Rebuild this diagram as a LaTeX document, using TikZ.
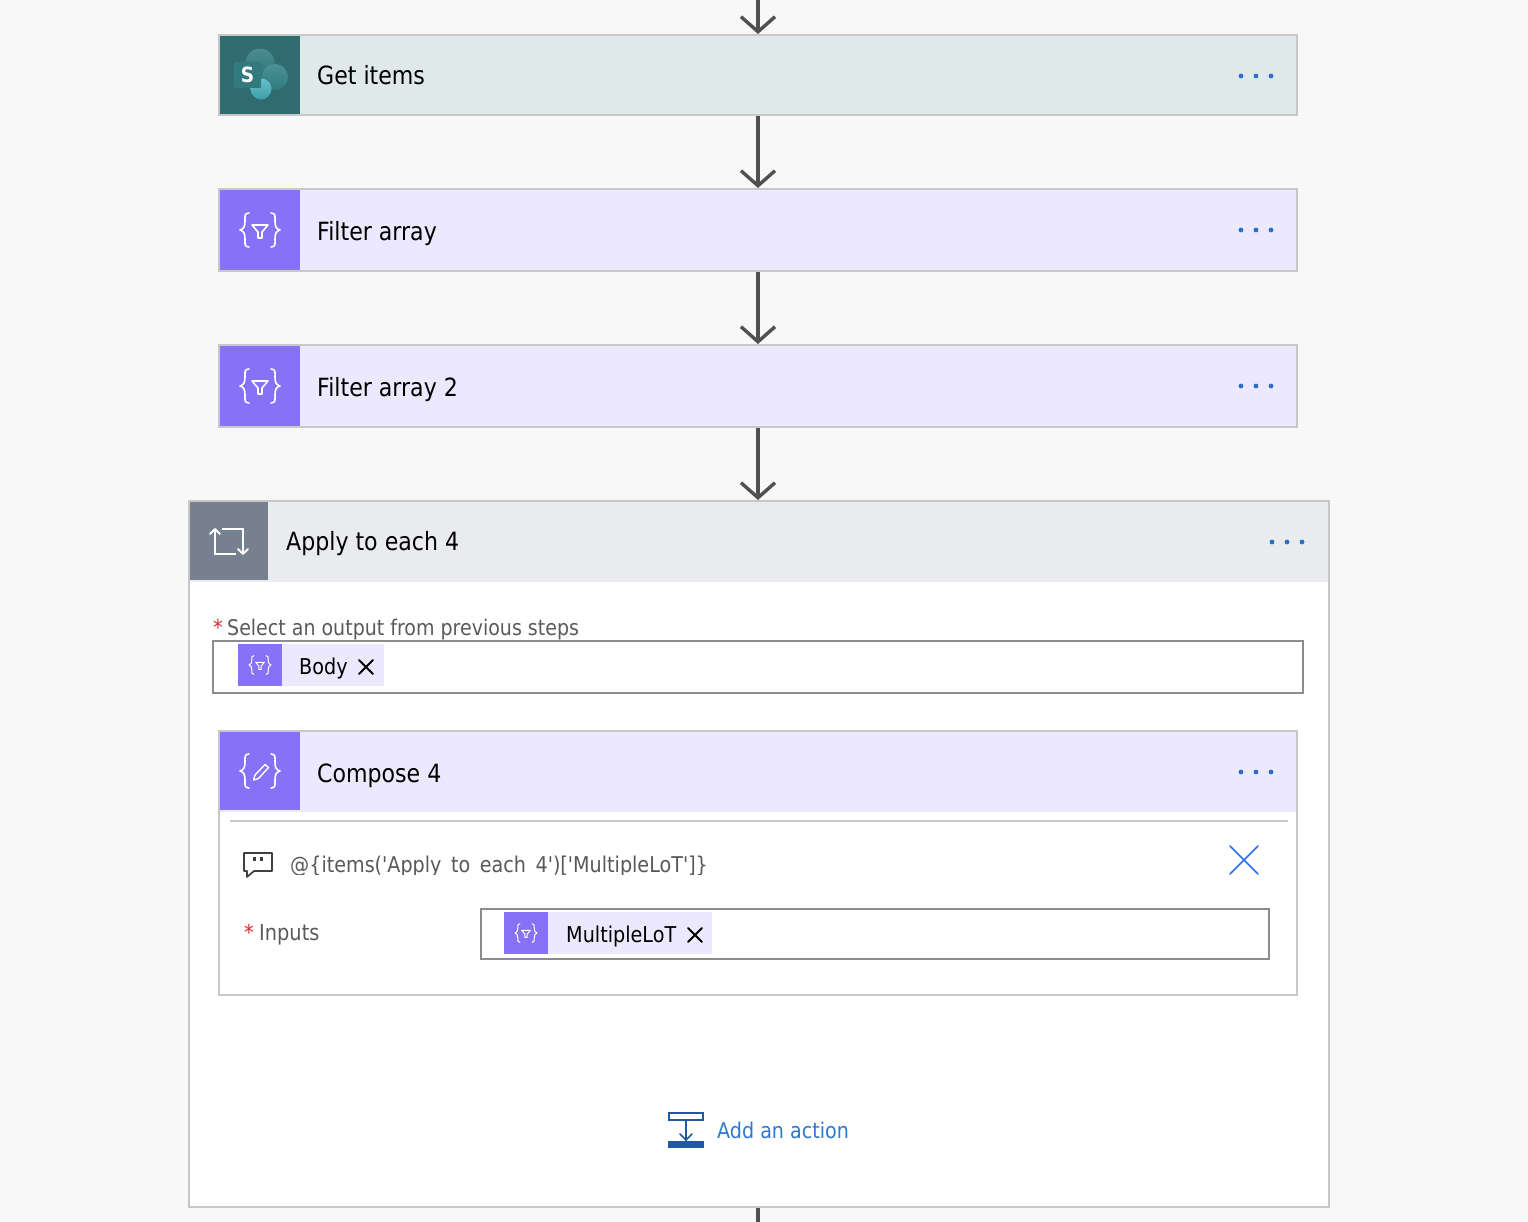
\documentclass[tikz,border=0pt]{standalone}
\usepackage{fontspec}
\setmainfont{DejaVu Sans}[FakeStretch=0.88]
\newfontfamily\plainquotes{DejaVu Sans}[FakeStretch=0.88]
\usetikzlibrary{arrows.meta}
\definecolor{pagebg}{HTML}{F8F8F8}
\definecolor{bordergray}{HTML}{C8C8C8}
\definecolor{teallight}{HTML}{E0E9EA}
\definecolor{tealdark}{HTML}{2F6B6F}
\definecolor{spa}{HTML}{4B8C90}
\definecolor{spb}{HTML}{2F7478}
\definecolor{spc}{HTML}{4B9196}
\definecolor{spd}{HTML}{327A7E}
\definecolor{spe}{HTML}{66C0CA}
\definecolor{spf}{HTML}{3F9DA8}
\definecolor{spg}{HTML}{337A7E}
\definecolor{purpledark}{HTML}{8671F7}
\definecolor{purplelight}{HTML}{ECE9FE}
\definecolor{slateicon}{HTML}{76808F}
\definecolor{slatelight}{HTML}{EAEBEF}
\definecolor{fieldgray}{HTML}{8C8C8C}
\definecolor{wire}{HTML}{505050}
\definecolor{dotblue}{HTML}{2B6FC8}
\definecolor{linkblue}{HTML}{2F78CF}
\definecolor{crossblue}{HTML}{2A6FE8}
\definecolor{navy}{HTML}{20599F}
\definecolor{labelgray}{HTML}{5A5A5A}
\definecolor{starred}{HTML}{D8282F}
\newcommand{\fsz}[1]{\fontsize{#1}{#1}\selectfont}
\tikzset{
  x=1pt,y=-1pt,
  cardbox/.style={draw=bordergray,line width=2pt,inner sep=0pt,outer sep=1pt,anchor=north west},
  iconbox/.style={inner sep=0pt,outer sep=0pt,anchor=north west},
  title/.style={inner sep=0pt,anchor=base west,font=\fsz{25.1},text=black},
  fieldlabel/.style={inner sep=0pt,anchor=base west,font=\fsz{21.6},text=labelgray},
  chiptext/.style={inner sep=0pt,anchor=base west,font=\fsz{21.8},text=black},
  starmark/.style={inner sep=0pt,anchor=base west,font=\fsz{22},text=starred},
  wirearrow/.style={draw=wire,line width=3.4pt,-{Straight Barb[length=15pt,width=34pt,line width=3.4pt]}},
  fieldbox/.style={draw=fieldgray,line width=2pt,fill=white,inner sep=0pt,outer sep=0pt,anchor=north west},
}
% dots menu
\newcommand{\dotsmenu}[2]{\foreach \k in {0,15,30}{\fill[dotblue] (#1+\k,#2) circle (2.4);}}
% braces: centre x, y, scale, line width
\newcommand{\bracepair}[4]{%
  \begin{scope}[shift={(#1,#2)},scale=#3]
    \draw[white,line width=#4pt,line cap=round,line join=round]
      (-11,-17) .. controls (-16,-17) and (-15,-13) .. (-15,-9) .. controls (-15,-4) and (-16,-1) .. (-20,0)
      .. controls (-16,1) and (-15,4) .. (-15,9) .. controls (-15,13) and (-16,17) .. (-11,17);
    \draw[white,line width=#4pt,line cap=round,line join=round]
      (11,-17) .. controls (16,-17) and (15,-13) .. (15,-9) .. controls (15,-4) and (16,-1) .. (20,0)
      .. controls (16,1) and (15,4) .. (15,9) .. controls (15,13) and (16,17) .. (11,17);
  \end{scope}}
\newcommand{\funnelicon}[4]{%
  \bracepair{#1}{#2}{#3}{#4}
  \begin{scope}[shift={(#1,#2)},scale=#3]
    \draw[white,line width=#4pt,line join=round]
      (-8,-5) -- (8,-5) -- (2,2) -- (2,8) -- (-2,8) -- (-2,2) -- cycle;
  \end{scope}}
\newcommand{\crossicon}[4]{\draw[#4,line cap=round] (#1-#3,#2-#3) -- (#1+#3,#2+#3) (#1-#3,#2+#3) -- (#1+#3,#2-#3);}
\begin{document}
\begin{tikzpicture}
\useasboundingbox (0,0) rectangle (1528,1222);
\fill[pagebg] (0,0) rectangle (1528,1222);

% free ends of the connectors
\coordinate (topend) at (758,0);
\coordinate (bottomend) at (758,1222);

% Get items
\node[cardbox,fill=teallight,minimum width=1078pt,minimum height=80pt] (getitems) at (218,34) {};
\node[iconbox,fill=tealdark,minimum width=80pt,minimum height=78pt] (getitemsicon) at (220,36) {};
\shade[top color=spa,bottom color=spb] (260,63) circle (14.5);
\shade[top color=spc,bottom color=spd] (275,77) circle (13);
\shade[top color=spe,bottom color=spf] (261,89) circle (10.5);
\fill[rounded corners=1pt,fill=spg] (234,62) rectangle (261,88);
\node[inner sep=0pt,anchor=center,font=\fsz{21}\bfseries,text=white] (getitemss) at (247.5,75) {S};
\node[title] (getitemstext) at (317,85) {Get items};
\dotsmenu{1241}{76}

% Filter array
\node[cardbox,fill=purplelight,minimum width=1078pt,minimum height=82pt] (filter1) at (218,188) {};
\node[iconbox,fill=purpledark,minimum width=80pt,minimum height=80pt] (filter1icon) at (220,190) {};
\funnelicon{260}{230}{1}{1.6}
\node[title] (filter1text) at (317,241) {Filter array};
\dotsmenu{1241}{230}

% Filter array 2
\node[cardbox,fill=purplelight,minimum width=1078pt,minimum height=82pt] (filter2) at (218,344) {};
\node[iconbox,fill=purpledark,minimum width=80pt,minimum height=80pt] (filter2icon) at (220,346) {};
\funnelicon{260}{386}{1}{1.6}
\node[title] (filter2text) at (317,396) {Filter array 2};
\dotsmenu{1241}{386}

% Apply to each 4
\node[cardbox,fill=white,minimum width=1140pt,minimum height=706pt] (apply) at (188,500) {};
\node[iconbox,fill=slatelight,minimum width=1138pt,minimum height=80pt] (applyhead) at (190,502) {};
\node[iconbox,fill=slateicon,minimum width=78pt,minimum height=78pt] (applyicon) at (190,502) {};
\draw[white,line width=2pt,line join=miter] (222,529) -- (243,529) -- (243,553);
\draw[white,line width=2pt] (236,554) -- (215,554) -- (215,530);
\draw[white,line width=2pt,line cap=round,line join=round] (210,534) -- (215,529) -- (220,534);
\draw[white,line width=2pt,line cap=round,line join=round] (238,549) -- (243,554) -- (248,549);
\node[title] (applytext) at (286,550) {Apply to each 4};
\dotsmenu{1272}{542}

% Select an output field
\node[starmark] (star1) at (213,635.5) {*};
\node[fieldlabel] (selecttext) at (227,635.5) {Select an output from previous steps};
\node[fieldbox,minimum width=1090pt,minimum height=52pt] (bodyfield) at (213,641) {};
\node[iconbox,fill=purplelight,minimum width=146pt,minimum height=42pt] (bodychip) at (238,644) {};
\node[iconbox,fill=purpledark,minimum width=44pt,minimum height=42pt] (bodychipicon) at (238,644) {};
\funnelicon{260}{665}{0.55}{1}
\node[chiptext] (bodytext) at (299,674) {Body};
\crossicon{366}{667}{7}{line width=2pt,black}

% Compose 4
\node[cardbox,fill=white,minimum width=1078pt,minimum height=264pt] (compose) at (218,730) {};
\node[iconbox,fill=purplelight,minimum width=1076pt,minimum height=80pt] (composehead) at (220,732) {};
\node[iconbox,fill=purpledark,minimum width=80pt,minimum height=78pt] (composeicon) at (220,732) {};
\bracepair{260}{771}{1}{1.6}
\draw[white,line width=1.4pt,line join=round] (253.5,780) -- (255,775) -- (265,764.5) -- (268.5,767.5) -- (258.5,778.5) -- cycle;
\node[title] (composetext) at (317,782) {Compose 4};
\dotsmenu{1241}{772}
\draw[bordergray,line width=2pt] (230,821) -- (1288,821);

% comment line
\draw[black!75,line width=1.7pt,line join=round] (244,853) -- (272,853) -- (272,871) -- (254,871) -- (247,877) -- (247,871) -- (244,871) -- cycle;
\fill[black!75] (253,857) rectangle (256,861);
\fill[black!75] (260,857) rectangle (263,861);
\begin{scope}
  \clip (285,845) rectangle (720,874.6);
  \node[fieldlabel,text=black!65,font=\plainquotes\fsz{21.75}] (commenttext) at (290,872) {@\{items('Apply\_to\_each\_4')['MultipleLoT']\}};
\end{scope}
\crossicon{1244}{860}{14}{line width=1.7pt,crossblue}

% Inputs field
\node[starmark] (star2) at (244,940) {*};
\node[fieldlabel,font=\fsz{22}] (inputstext) at (259,940) {Inputs};
\node[fieldbox,minimum width=788pt,minimum height=50pt] (inputfield) at (481,909) {};
\node[iconbox,fill=purplelight,minimum width=208pt,minimum height=42pt] (mlchip) at (504,912) {};
\node[iconbox,fill=purpledark,minimum width=44pt,minimum height=42pt] (mlchipicon) at (504,912) {};
\funnelicon{526}{933}{0.55}{1}
\node[chiptext] (mltext) at (566,942) {MultipleLoT};
\crossicon{695}{935}{7}{line width=2pt,black}

% Add an action
\node[draw=navy,line width=2pt,fill=white,inner sep=0pt,outer sep=0pt,minimum width=34pt,minimum height=7pt,anchor=north west] (addtop) at (669,1113) {};
\node[fill=navy,inner sep=0pt,outer sep=0pt,minimum width=36pt,minimum height=7pt,anchor=north west] (addbar) at (668,1141) {};
\draw[navy,line width=1.6pt] (addtop.south) -- (addbar.north);
\draw[navy,line width=1.6pt,line cap=round,line join=round] (680,1134) -- (686,1140) -- (692,1134);
\node[inner sep=0pt,anchor=base west,font=\fsz{21.7},text=linkblue] (addtext) at (717,1138) {Add an action};

% connectors
\draw[wirearrow] (topend) -- (getitems.north -| topend);
\draw[wirearrow] (getitems.south -| topend) -- (filter1.north -| topend);
\draw[wirearrow] (filter1.south -| topend) -- (filter2.north -| topend);
\draw[wirearrow] (filter2.south -| topend) -- (apply.north -| topend);
\draw[draw=wire,line width=3.4pt] (apply.south -| bottomend) -- (bottomend);
\end{tikzpicture}
\end{document}
